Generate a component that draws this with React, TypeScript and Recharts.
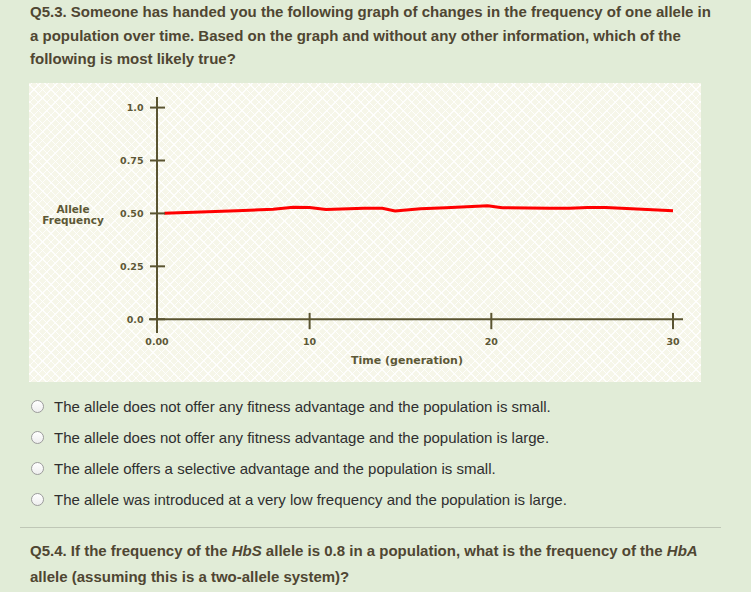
import React from 'react';
import { LineChart, Line, XAxis, YAxis, ReferenceLine, Label } from 'recharts';

// ---- data ----
const generations = [2, 4, 6, 8, 9.1, 10, 10.9, 13, 14, 14.7, 16.1, 17.5, 19.8, 20.6, 23.2, 24.3, 25.3, 26.3, 30];
const alleleFrequency = [0.501, 0.507, 0.513, 0.52, 0.529, 0.528, 0.519, 0.524, 0.524, 0.512, 0.522, 0.527, 0.536, 0.527, 0.524, 0.524, 0.528, 0.528, 0.513];

const xTicks = [1.6, 10, 20, 30];
const xTickLabels = ['0.00', '10', '20', '30'];
const yTicks = [0, 0.25, 0.5, 0.75, 1.0];
const yTickLabels = ['0.0', '0.25', '0.50', '0.75', '1.0'];

const xDomain: [number, number] = [1.6, 30.55];
const yDomain: [number, number] = [-0.065, 1.05];
const xAxisStart = 1.16;

const options = [
  'The allele does not offer any fitness advantage and the population is small.',
  'The allele does not offer any fitness advantage and the population is large.',
  'The allele offers a selective advantage and the population is small.',
  'The allele was introduced at a very low frequency and the population is large.',
];

const data = generations.map((g, i) => ({ g, f: alleleFrequency[i] }));

const AXIS = '#5a5431';
const TICK_TEXT = '#5d5836';
const CHART_FONT = '"DejaVu Sans", Verdana, sans-serif';
const PAGE_FONT = '"Liberation Sans", Arial, Helvetica, sans-serif';
const Q_COLOR = '#4f4632';

const YTick = (props: any) => {
  const { x, y, payload } = props;
  const idx = yTicks.indexOf(payload.value);
  return (
    <g>
      <line x1={x - 7} x2={x + 8} y1={y} y2={y} stroke={AXIS} strokeWidth={2} />
      <text x={x - 13.5} y={y} dy="0.35em" textAnchor="end" fill={TICK_TEXT}
        fontSize={9.5} fontWeight="bold" fontFamily={CHART_FONT}>
        {idx >= 0 ? yTickLabels[idx] : payload.value}
      </text>
    </g>
  );
};

const YTitle = (props: any) => {
  const vb = props.viewBox || { x: 0, y: 14, width: 128, height: 236 };
  const cx = vb.x + 44;
  const cy = vb.y + vb.height / 2;
  return (
    <text x={cx} y={cy} textAnchor="middle" fill={TICK_TEXT} fontSize={10.5}
      fontWeight="bold" fontFamily={CHART_FONT}>
      <tspan x={cx} y={cy - 2.5}>Allele</tspan>
      <tspan x={cx} y={cy + 9}>Frequency</tspan>
    </text>
  );
};

const panelBg: React.CSSProperties = {
  position: 'absolute', left: 29, top: 83, width: 672, height: 299,
  backgroundColor: '#f6f6e9',
  backgroundImage:
    'repeating-linear-gradient(45deg, rgba(255,255,255,0.85) 0px, rgba(255,255,255,0.85) 1px, transparent 1px, transparent 6px),' +
    'repeating-linear-gradient(-45deg, rgba(255,255,255,0.85) 0px, rgba(255,255,255,0.85) 1px, transparent 1px, transparent 6px)',
};

export default function App() {
  return (
    <div style={{ position: 'absolute', left: 0, top: 0, width: 751, height: 592, background: '#e1ecd7', overflow: 'hidden', fontFamily: PAGE_FONT }}>
      <div style={{ position: 'absolute', left: 30, top: 0, fontSize: 15, fontWeight: 'bold', color: Q_COLOR, lineHeight: '23.5px', whiteSpace: 'nowrap' }}>
        <div>Q5.3. Someone has handed you the following graph of changes in the frequency of one allele in</div>
        <div>a population over time. Based on the graph and without any other information, which of the</div>
        <div>following is most likely true?</div>
      </div>

      <div style={panelBg}>
        <LineChart width={672} height={299} data={data} margin={{ top: 14, right: 18, bottom: 9, left: 0 }}>
          <XAxis type="number" dataKey="g" domain={xDomain} allowDataOverflow ticks={xTicks} interval={0}
            tickFormatter={(v: number) => { const i = xTicks.indexOf(v); return i >= 0 ? xTickLabels[i] : String(v); }}
            axisLine={false} tickLine={false} tickSize={0} tickMargin={5} height={40}
            tick={{ fill: TICK_TEXT, fontSize: 9.5, fontWeight: 'bold', fontFamily: CHART_FONT }}>
            <Label value="Time (generation)" position="insideBottom" offset={9} dx={-13}
              style={{ fill: TICK_TEXT, fontSize: 11, fontWeight: 'bold', fontFamily: CHART_FONT }} />
          </XAxis>
          <YAxis type="number" domain={yDomain} allowDataOverflow ticks={yTicks} interval={0} width={128}
            axisLine={{ stroke: AXIS, strokeWidth: 2 }} tickLine={false} tickSize={0} tickMargin={0}
            tick={<YTick />}>
            <Label content={<YTitle />} />
          </YAxis>
          <ReferenceLine segment={[{ x: xAxisStart, y: 0 }, { x: xDomain[1], y: 0 }]} stroke={AXIS} strokeWidth={2} ifOverflow="visible" />
          {xTicks.slice(1).map((t) => (
            <ReferenceLine key={t} segment={[{ x: t, y: 0.03 }, { x: t, y: -0.047 }]} stroke={AXIS} strokeWidth={2} ifOverflow="visible" />
          ))}
          <Line type="linear" dataKey="f" stroke="#ff0000" strokeWidth={3} dot={false} activeDot={false} isAnimationActive={false} />
        </LineChart>
      </div>

      {options.map((t, i) => (
        <div key={i} style={{ position: 'absolute', left: 31, top: 398 + i * 31.3, height: 16, display: 'flex', alignItems: 'center', whiteSpace: 'nowrap' }}>
          <div style={{ width: 13, height: 13, borderRadius: '50%', border: '1px solid #9c9c9c', background: 'linear-gradient(#ffffff, #eeeeee)', boxSizing: 'border-box' }} />
          <span style={{ marginLeft: 10, fontSize: 15, color: '#2f2f2f' }}>{t}</span>
        </div>
      ))}

      <div style={{ position: 'absolute', left: 20, top: 527, width: 701, height: 1, background: '#bfc7b6' }} />

      <div style={{ position: 'absolute', left: 30, top: 538, fontSize: 15, fontWeight: 'bold', color: Q_COLOR, lineHeight: '26px', whiteSpace: 'nowrap' }}>
        <div>Q5.4. If the frequency of the <i>HbS</i> allele is 0.8 in a population, what is the frequency of the <i>HbA</i></div>
        <div>allele (assuming this is a two-allele system)?</div>
      </div>
    </div>
  );
}
